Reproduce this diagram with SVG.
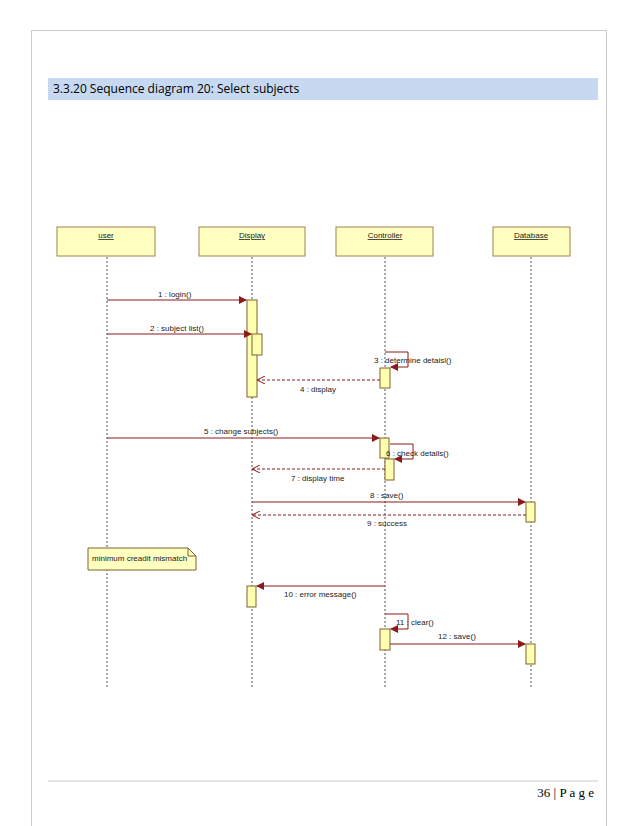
<svg xmlns="http://www.w3.org/2000/svg" width="638" height="826" viewBox="0 0 638 826">
<style>
.hd{fill:#ffffc0;stroke:#a08050;stroke-width:1}
.act{fill:#ffffb0;stroke:#806030;stroke-width:1}
.ll{stroke:#555;stroke-width:1;stroke-dasharray:2,2}
.m{stroke:#8b1a1a;stroke-width:1;fill:none}
.r{stroke:#8b1a1a;stroke-width:1;fill:none;stroke-dasharray:3,2}
.t{font-family:"Liberation Sans",Arial,sans-serif;font-size:8px;fill:#222}
.h{font-family:"Liberation Sans",Arial,sans-serif;font-size:8px;fill:#222;text-decoration:underline;text-anchor:middle}
</style>
<defs>
<marker id="a" markerWidth="8" markerHeight="8" refX="7" refY="4" orient="auto" markerUnits="userSpaceOnUse"><path d="M0,0L8,4L0,8z" fill="#8b1a1a"/></marker>
<marker id="o" markerWidth="8" markerHeight="8" refX="7" refY="4" orient="auto" markerUnits="userSpaceOnUse"><path d="M0,0L8,4L0,8" fill="none" stroke="#8b1a1a"/></marker>
</defs>
<rect width="638" height="826" fill="#fff"/>
<rect x="31.5" y="30.5" width="575" height="800" fill="none" stroke="#ccc"/>
<rect x="48" y="78" width="550" height="22" fill="#c6d9f1"/>
<text x="53" y="93" font-family="'Open Sans','Liberation Sans',sans-serif" font-size="12" fill="#000">3.3.20 Sequence diagram 20: Select subjects</text>
<line x1="48" y1="781" x2="598" y2="781" stroke="#ccc"/>
<text x="594" y="797" text-anchor="end" font-family="'Liberation Serif',serif" font-size="13" fill="#000">36 | P a g e</text>
<g id="user"><rect class="hd" x="57" y="227" width="98" height="29"/><text class="h" x="106" y="238">user</text><line class="ll" x1="107" y1="257" x2="107" y2="688"/></g>
<g id="display"><rect class="hd" x="199" y="227" width="106" height="29"/><text class="h" x="252" y="238">Display</text><line class="ll" x1="252" y1="257" x2="252" y2="688"/>
<rect class="act" x="247" y="300" width="10" height="97"/><rect class="act" x="252" y="334" width="10" height="21"/><rect class="act" x="247" y="586" width="9" height="21"/></g>
<g id="controller"><rect class="hd" x="336" y="227" width="97" height="29"/><text class="h" x="385" y="238">Controller</text><line class="ll" x1="385" y1="257" x2="385" y2="688"/>
<rect class="act" x="380" y="368" width="10" height="20"/><rect class="act" x="380" y="438" width="9" height="20"/><rect class="act" x="385" y="459" width="9" height="21"/><rect class="act" x="380" y="629" width="10" height="21"/></g>
<g id="database"><rect class="hd" x="493" y="227" width="77" height="29"/><text class="h" x="531" y="238">Database</text><line class="ll" x1="531" y1="257" x2="531" y2="688"/>
<rect class="act" x="526" y="502" width="9" height="20"/><rect class="act" x="526" y="644" width="9" height="20"/></g>
<g id="note"><path d="M88,548H188L196,556V570H88Z" fill="#ffffc0" stroke="#806030"/><path d="M188,548V556H196" fill="none" stroke="#806030"/><text class="t" x="92" y="561">minimum creadit mismatch</text></g>
<g id="connectors">
<line class="m" x1="107" y1="300" x2="246" y2="300" marker-end="url(#a)"/><text class="t" x="158" y="297">1 : login()</text>
<line class="m" x1="107" y1="334" x2="251" y2="334" marker-end="url(#a)"/><text class="t" x="150" y="331">2 : subject list()</text>
<path class="m" d="M385,352H408V367H391" marker-end="url(#a)"/><text class="t" x="374" y="363">3 : determine detaisl()</text>
<line class="r" x1="380" y1="380" x2="258" y2="380" marker-end="url(#o)"/><text class="t" x="300" y="392">4 : display</text>
<line class="m" x1="107" y1="438" x2="379" y2="438" marker-end="url(#a)"/><text class="t" x="204" y="434">5 : change subjects()</text>
<path class="m" d="M390,444H413V459H395" marker-end="url(#a)"/><text class="t" x="386" y="456">6 : check details()</text>
<line class="r" x1="385" y1="469" x2="253" y2="469" marker-end="url(#o)"/><text class="t" x="291" y="481">7 : display time</text>
<line class="m" x1="252" y1="502" x2="525" y2="502" marker-end="url(#a)"/><text class="t" x="370" y="498">8 : save()</text>
<line class="r" x1="526" y1="515" x2="253" y2="515" marker-end="url(#o)"/><text class="t" x="367" y="526">9 : success</text>
<line class="m" x1="385" y1="586" x2="257" y2="586" marker-end="url(#a)"/><text class="t" x="284" y="597">10 : error message()</text>
<path class="m" d="M385,614H408V629H391" marker-end="url(#a)"/><text class="t" x="396" y="625">11 : clear()</text>
<line class="m" x1="390" y1="644" x2="525" y2="644" marker-end="url(#a)"/><text class="t" x="438" y="639">12 : save()</text>
</g>
</svg>
